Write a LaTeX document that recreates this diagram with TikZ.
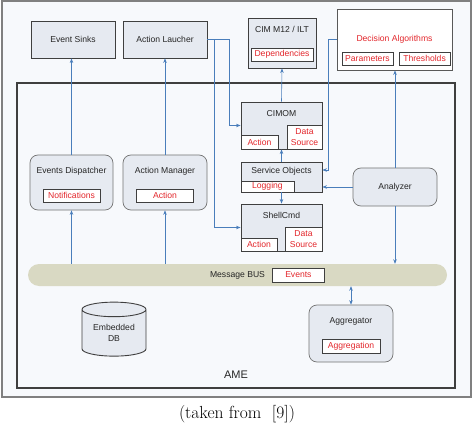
\documentclass[tikz,border=0pt]{standalone}
\usepackage{fontspec}
\setsansfont{Liberation Sans}
\usetikzlibrary{arrows.meta,shapes.geometric,positioning}

\definecolor{boxfill}{HTML}{E6EAF1}
\definecolor{boxline}{HTML}{3F3F3F}
\definecolor{busfill}{HTML}{D9D9C3}
\definecolor{linkblue}{HTML}{4A7EBB}
\definecolor{tagred}{HTML}{E3262B}
\definecolor{pagebg}{HTML}{F7F9FC}
\definecolor{framegray}{HTML}{808080}

\begin{document}
\begin{tikzpicture}[
  x=1pt, y=-1pt,
  box/.style={rectangle, draw=boxline, line width=0.9pt, fill=boxfill, inner sep=0pt, align=center, text=black!85, font=\sffamily\fontsize{8.6}{11}\selectfont},
  rbox/.style={box, rounded corners=8pt, draw=black!55, line width=0.7pt},
  tag/.style={rectangle, draw=boxline, line width=0.8pt, fill=white, inner sep=0pt, align=center, text=tagred, font=\sffamily\fontsize{8.6}{11}\selectfont},
  ttl/.style 2 args={label={[anchor=center, yshift=-#1pt, text=black!85, font=\sffamily\fontsize{8.6}{11}\selectfont]north:#2}},
  arrow/.style={-{Stealth[length=4.5pt, width=3.5pt]}, draw=linkblue, line width=0.6pt},
  bus/.style={rectangle, rounded corners=11pt, fill=busfill, inner sep=0pt, text=black!85, font=\sffamily\fontsize{8.6}{11}\selectfont}
]
\useasboundingbox (0,0) rectangle (474,425);

%% Frames
\draw[framegray, line width=2.5pt, fill=pagebg] (2,1) rectangle (471,397);
\draw[boxline, line width=1.4pt] (17,83) rectangle (455,388);
\node[font=\sffamily\fontsize{11}{13}\selectfont, text=black!85] (ame) at (236,375) {AME};

%% Outside the AME
\node[box, minimum width=84pt, minimum height=37pt] (sinks) at (73,39.5) {Event Sinks};
\node[box, minimum width=84pt, minimum height=37pt] (laucher) at (165,39.5) {Action Laucher};
\node[box, minimum width=68pt, minimum height=50pt, ttl={12}{CIM M12 / ILT}] (cim) at (282,43) {};
\node[tag, anchor=south, minimum width=62pt, minimum height=13pt] (deps) at ([yshift=7pt]cim.south) {Dependencies};
\node[box, fill=white, draw=black!65, minimum width=115pt, minimum height=61pt, text=tagred] (decision) at (394.5,39.5) {Decision Algorithms};
\node[tag, anchor=south west, minimum width=51pt, minimum height=13pt] (params) at ([shift={(5pt,5pt)}]decision.south west) {Parameters};
\node[tag, anchor=south east, minimum width=51pt, minimum height=13pt] (thresh) at ([shift={(-2pt,5pt)}]decision.south east) {Thresholds};

%% Service side
\node[box, minimum width=81pt, minimum height=47pt, ttl={12}{CIMOM}] (cimom) at (281.5,125.5) {};
\node[tag, anchor=south west, minimum width=37pt, minimum height=14pt] (cimomact) at (cimom.south west) {Action};
\node[tag, anchor=south east, minimum width=35pt, minimum height=24pt] (cimomsrc) at (cimom.south east) {Data\\Source};
\node[box, minimum width=81pt, minimum height=30pt, ttl={10}{Service Objects}] (svc) at (281.5,177) {};
\node[tag, anchor=south west, minimum width=53pt, minimum height=11pt] (logging) at (svc.south west) {Logging};
\node[box, minimum width=81pt, minimum height=47pt, ttl={12}{ShellCmd}] (shell) at (281.5,227.5) {};
\node[tag, anchor=south west, minimum width=36pt, minimum height=13pt] (shellact) at (shell.south west) {Action};
\node[tag, anchor=south east, minimum width=37pt, minimum height=24pt] (shellsrc) at (shell.south east) {Data\\Source};
\node[rbox, minimum width=84pt, minimum height=38pt] (analyzer) at (395,187) {Analyzer};

%% Managers
\node[rbox, minimum width=83pt, minimum height=55pt, ttl={17}{Events Dispatcher}] (dispatcher) at (71.5,182.5) {};
\node[tag, anchor=south, minimum width=57pt, minimum height=13pt] (notif) at ([yshift=8pt]dispatcher.south) {Notifications};
\node[rbox, minimum width=84pt, minimum height=55pt, ttl={17}{Action Manager}] (manager) at (165,182.5) {};
\node[tag, anchor=south, minimum width=57pt, minimum height=13pt] (manageract) at ([yshift=8pt]manager.south) {Action};

%% Bus and storage
\node[bus, minimum width=419pt, minimum height=22pt] (bus) at (237.5,275) {Message BUS};
\node[tag, anchor=west, minimum width=52pt, minimum height=14pt] (events) at ([xshift=34.5pt]bus.center) {Events};
\node[cylinder, shape border rotate=90, aspect=0.35, draw=boxline, line width=0.9pt, fill=boxfill, minimum width=64pt, minimum height=54pt, inner sep=0pt, align=center, text=black!85, font=\sffamily\fontsize{8.6}{11}\selectfont] (db) at (114,333) {Embedded\\DB};
\node[rbox, minimum width=84pt, minimum height=57pt, ttl={17}{Aggregator}] (aggr) at (351,333.5) {};
\node[tag, anchor=south, minimum width=58pt, minimum height=14pt] (aggrtag) at ([yshift=9pt]aggr.south) {Aggregation};

%% Arrows
\coordinate (split) at ([xshift=7pt]laucher.east);
\draw[arrow] (laucher.east) -- ++(22,0) |- (cimom.west);
\draw[arrow] (split) |- (shell.west);
\draw[arrow] (dispatcher.north) -- (dispatcher.north |- sinks.south);
\draw[arrow] (manager.north) -- (laucher.south);
\draw[arrow] (bus.north -| dispatcher.south) -- (dispatcher.south);
\draw[arrow] (bus.north -| manager.south) -- (manager.south);
\draw[arrow] (cimom.north) -- (cim.south);
\draw[arrow] (svc.north) -- (cimom.south);
\draw[arrow] (svc.south) -- (shell.north);
\draw[arrow] (decision.west) -- ++(-8,0) |- ([yshift=7pt]svc.east);
\draw[arrow] (analyzer.west) -- (analyzer.west -| svc.east);
\draw[arrow] (analyzer.north) -- (analyzer.north |- decision.south);
\draw[arrow] (analyzer.south) -- (analyzer.south |- bus.north);
\draw[arrow, {Stealth[length=4.5pt, width=3.5pt]}-{Stealth[length=4.5pt, width=3.5pt]}] (bus.south -| aggr.north) -- (aggr.north);

%% Caption
\node[font=\fontsize{17.5}{20}\selectfont] (caption) at (237,414) {(taken from~~[9])};
\end{tikzpicture}
\end{document}
